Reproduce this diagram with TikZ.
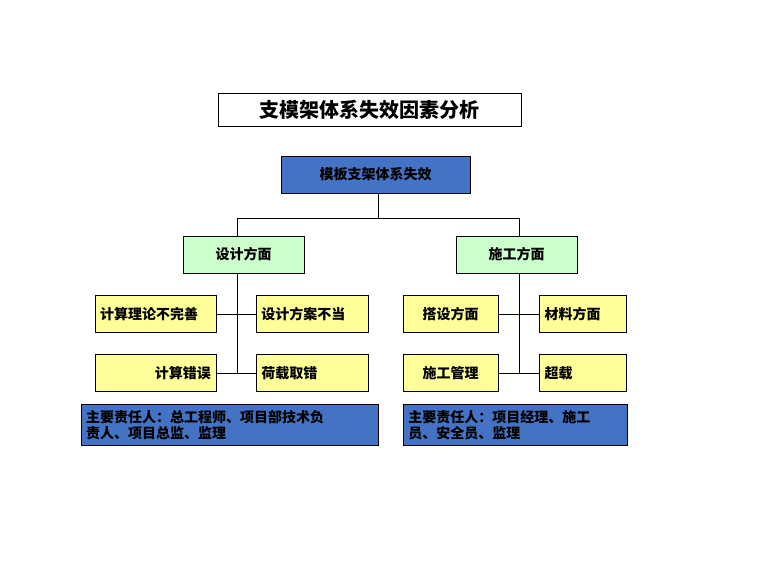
\documentclass[tikz,border=0pt]{standalone}
\usepackage{fontspec}
\newfontfamily\cjk{Noto Sans CJK SC}
\usetikzlibrary{positioning}
\definecolor{boxblue}{RGB}{68,114,196}
\definecolor{boxgreen}{RGB}{204,255,204}
\definecolor{boxyellow}{RGB}{255,255,153}
\tikzset{base/.style = {rectangle, draw=black, inner sep=3pt, font=\cjk\bfseries\fontsize{10.5}{12}\selectfont},
  head/.style = {base, fill=boxblue, minimum width=142pt, minimum height=28pt},
  branch/.style = {base, fill=boxgreen, minimum width=91pt, minimum height=28pt},
  leaf/.style = {base, fill=boxyellow, minimum height=28pt, text height=9pt},
  duty/.style = {base, fill=boxblue, align=left, minimum height=31pt},
  tree/.style = {draw=black, line width=0.5pt}}
\begin{document}
\begin{tikzpicture}[x=0.75pt,y=-0.75pt]
  \useasboundingbox (0,0) rectangle (760,570);

  \node (title) [base, font=\cjk\bfseries\fontsize{15}{18}\selectfont, minimum width=227pt, minimum height=25pt] at (369.5,110) {支模架体系失效因素分析};
  \node (top) [head] at (375.5,174.5) {模板支架体系失效};

  \node (design) [branch] at (243.5,254.5) {设计方面};
  \node (build)  [branch] at (516.5,254.5) {施工方面};

  \node (calcA) [leaf, minimum width=91pt, text width=83pt, align=left]  at (155.5,314) {计算理论不完善};
  \node (plan)  [leaf, minimum width=84pt, text width=76pt, align=left]  at (312,314) {设计方案不当};
  \node (calcB) [leaf, minimum width=91pt, text width=83pt, align=right] at (155.5,373) {计算错误};
  \node (load)  [leaf, minimum width=84pt, text width=76pt, align=left]  at (312,373) {荷载取错};

  \node (erect) [leaf, minimum width=71pt] at (450.5,314) {搭设方面};
  \node (mat)   [leaf, minimum width=65pt, text width=57pt, align=left] at (582.5,314) {材料方面};
  \node (mgmt)  [leaf, minimum width=71pt] at (450.5,373) {施工管理};
  \node (over)  [leaf, minimum width=65pt, text width=57pt, align=left] at (582.5,373) {超载};

  \node (dutyL) [duty, minimum width=223pt, text width=215pt] at (229.5,425) {主要责任人：总工程师、项目部技术负\\责人、项目总监、监理};
  \node (dutyR) [duty, minimum width=168pt, text width=160pt] at (515,425) {主要责任人：项目经理、施工\\员、安全员、监理};

  % tree
  \coordinate (fork) at (378,218);
  \coordinate (lspine) at (237,273);
  \coordinate (rspine) at (519,273);
  \draw [tree] (top.south -| fork) -- (fork);
  \draw [tree] (lspine |- fork) -- (rspine |- fork);
  \draw [tree] (lspine |- fork) -- (lspine |- design.north);
  \draw [tree] (rspine |- fork) -- (rspine |- build.north);
  \draw [tree] (lspine) -- (lspine |- calcB.east);
  \draw [tree] (rspine) -- (rspine |- mgmt.east);
  \draw [tree] (calcA) -- (plan);
  \draw [tree] (calcB) -- (load);
  \draw [tree] (erect) -- (mat);
  \draw [tree] (mgmt) -- (over);
\end{tikzpicture}
\end{document}
